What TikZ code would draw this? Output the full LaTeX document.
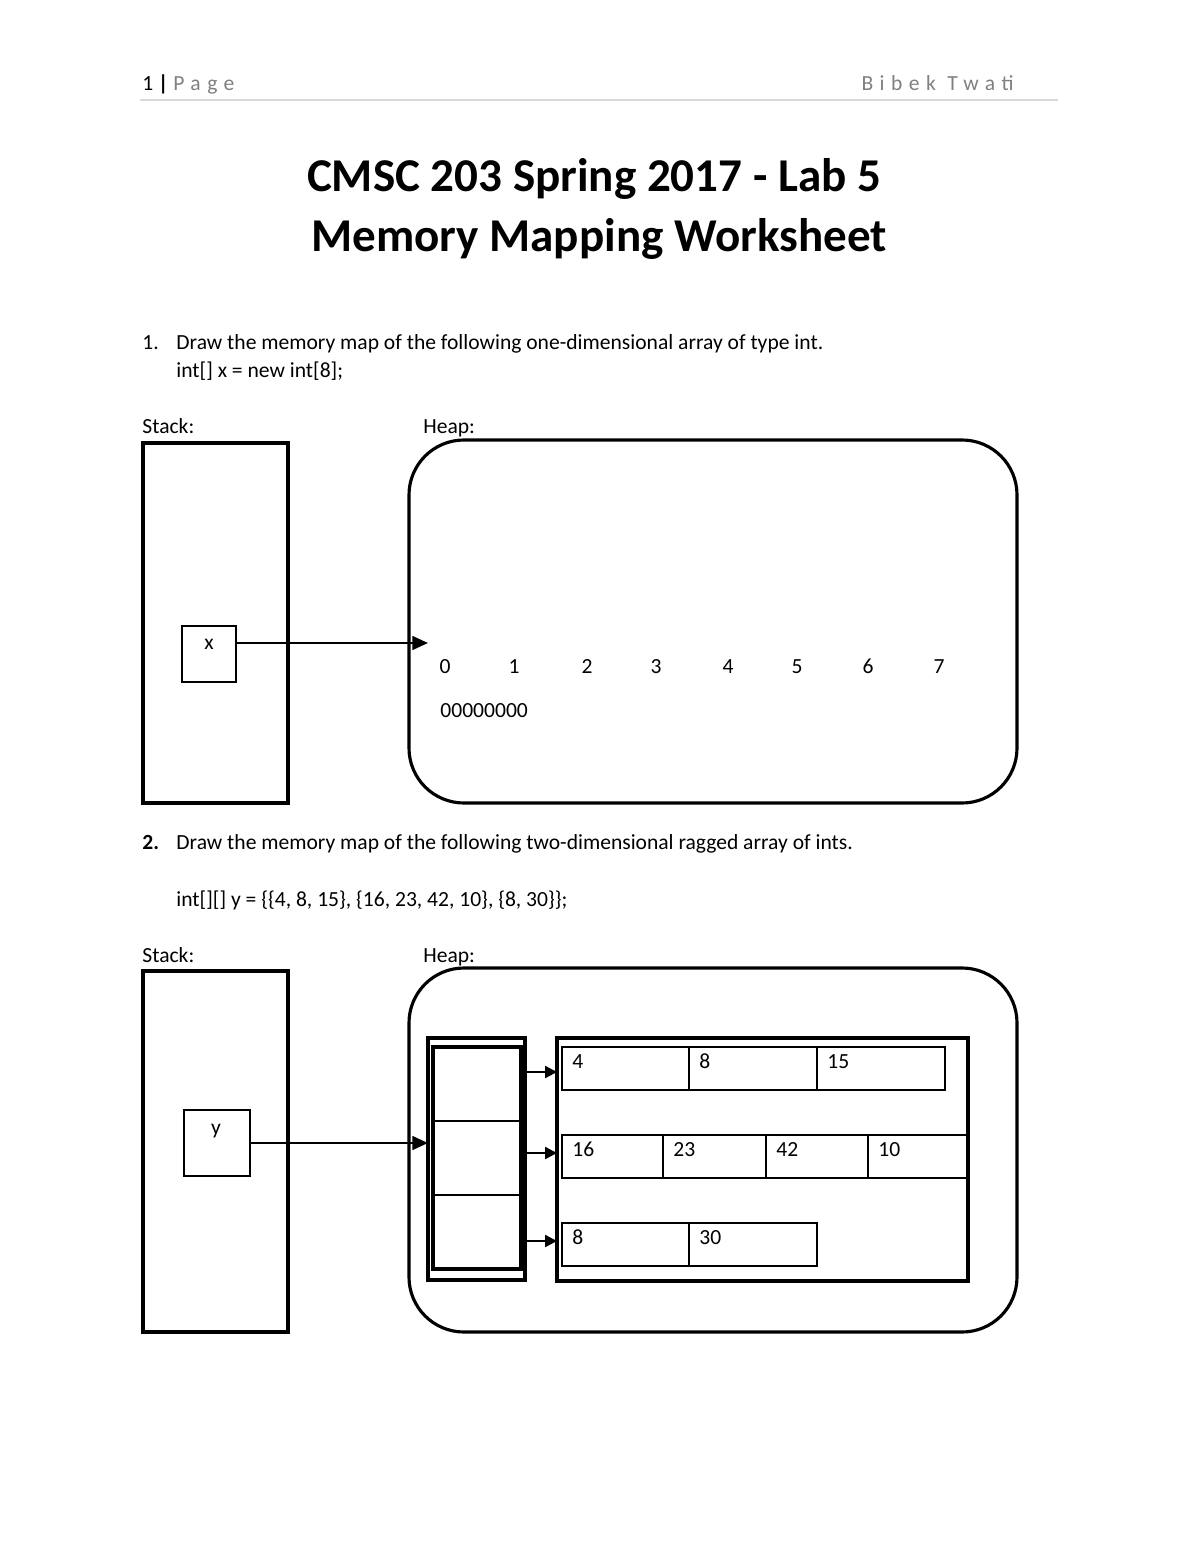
\documentclass[tikz,border=0pt]{standalone}
\usepackage{fontspec}
\setmainfont{Carlito}
\usetikzlibrary{arrows.meta}
\newdimen\pxu \pxu=0.51pt
\definecolor{hdrgray}{RGB}{128,128,128}
\definecolor{rulegray}{RGB}{217,217,217}
\begin{document}
\begin{tikzpicture}[x=0.51pt,y=-0.51pt,
  txt/.style={anchor=base west, inner sep=0pt, font=\fontsize{11}{13}\selectfont},
  ctxt/.style={anchor=base, inner sep=0pt, font=\fontsize{11}{13}\selectfont},
  titletxt/.style={anchor=base, inner sep=0pt, font=\fontsize{24}{28}\selectfont\bfseries},
  stackbox/.style={draw, line width=2pt, inner sep=0pt, outer sep=0pt},
  heapbox/.style={draw, line width=1.6pt, rounded corners=28pt, inner sep=0pt, outer sep=0pt},
  varbox/.style={draw, line width=0.9pt, inner sep=0pt, outer sep=0pt},
  arrbox/.style={draw, line width=1.6pt, inner sep=0pt, outer sep=0pt},
  refbox/.style={draw, line width=1pt, inner sep=0pt, outer sep=0pt},
  cellbox/.style={draw, line width=1.3pt, inner sep=0pt, outer sep=0pt},
  ptr/.style={-{Triangle[length=8pt,width=7pt]}, line width=1.2pt},
  sptr/.style={-{Triangle[length=6pt,width=6pt]}, line width=1.2pt},
]
\useasboundingbox (0,0) rectangle (1200,1553);

% header
\node[txt] (pgnum) at (142,91) {1 \textbf{|} \textcolor{hdrgray}{\addfontfeature{LetterSpace=30}Page}};
\node[anchor=base east, inner sep=0pt, font=\fontsize{11}{13}\selectfont, text=hdrgray] (author) at (1014,91) {\addfontfeature{LetterSpace=30}Bibek Twati};
\draw[rulegray, line width=0.6pt] (140,100) -- (1058,100);

% title
\node[titletxt] (title1) at (594,192) {CMSC 203 Spring 2017 - Lab 5};
\node[titletxt] (title2) at (599,251) {Memory Mapping Worksheet};

% question 1
\node[txt] (q1num) at (142,349) {1.};
\node[txt] (q1) at (176,349) {Draw the memory map of the following one-dimensional array of type int.};
\node[txt] (q1code) at (176,377) {int[] x = new int[8];};
\node[txt] (stack1lbl) at (142,433) {Stack:};
\node[txt] (heap1lbl) at (423,433) {Heap:};

\node[stackbox, minimum width=145\pxu, minimum height=360\pxu] (stack1) at (215.5,623) {};
\node[varbox, minimum width=54\pxu, minimum height=56\pxu] (xbox) at (209,654) {};
\node[ctxt] (xlbl) at (209,649) {x};
\node[heapbox, minimum width=608\pxu, minimum height=363\pxu] (heap1) at (713,621.5) {};
\coordinate (xstart) at (236,643);
\coordinate (xend) at (428,643);
\draw[ptr] (xstart) -- (xend);

\foreach \i/\xx in {0/445,1/514,2/587,3/656,4/728,5/797,6/868,7/939}{
  \node[ctxt] (idx\i) at (\xx,673) {\i};
}
\node[txt] (zeros) at (440,717) {00000000};

% question 2
\node[txt] (q2num) at (142,849) {\textbf{2.}};
\node[txt] (q2) at (176,849) {Draw the memory map of the following two-dimensional ragged array of ints.};
\node[txt] (q2code) at (176,906) {int[][] y = \{\{4, 8, 15\}, \{16, 23, 42, 10\}, \{8, 30\}\};};
\node[txt] (stack2lbl) at (142,962) {Stack:};
\node[txt] (heap2lbl) at (423,962) {Heap:};

\node[stackbox, minimum width=145\pxu, minimum height=361\pxu] (stack2) at (215.5,1151.5) {};
\node[varbox, minimum width=66\pxu, minimum height=66\pxu] (ybox) at (217,1143) {};
\node[ctxt] (ylbl) at (216,1134) {y};
\node[heapbox, minimum width=608\pxu, minimum height=364\pxu] (heap2) at (713,1150) {};

% outer array of references
\node[arrbox, minimum width=97\pxu, minimum height=242\pxu] (arrout) at (476.5,1159) {};
\node[refbox, minimum width=88\pxu, minimum height=74\pxu] (ref0) at (477,1084) {};
\node[refbox, minimum width=88\pxu, minimum height=74\pxu] (ref1) at (477,1158) {};
\node[refbox, minimum width=88\pxu, minimum height=74\pxu] (ref2) at (477,1232) {};
\draw[line width=1.6pt] (ref0.north west) rectangle (ref2.south east);
\draw[ptr] (ybox.east) -- (arrout.west |- ybox.east);

% big box with rows
\node[arrbox, minimum width=411\pxu, minimum height=243\pxu] (rows) at (762.5,1159.5) {};

\foreach \n/\xa/\xb/\yc/\t in {
  r0c0/562/689/1068.5/4, r0c1/689/817/1068.5/8, r0c2/817/945/1068.5/15,
  r1c0/562/663/1156.5/16, r1c1/663/766/1156.5/23, r1c2/766/868/1156.5/42, r1c3/868/967/1156.5/10,
  r2c0/562/689/1244.5/8, r2c1/689/817/1244.5/30}{
  \node[cellbox, minimum width={(\xb-\xa)*\pxu}, minimum height=43\pxu] (\n) at ({(\xa+\xb)/2},\yc) {};
  \node[txt] (\n lbl) at ({\xa+10},{\yc}) {\t};
}

\draw[sptr] (arrout.east |- 0,1072) -- (rows.west |- 0,1072);
\draw[sptr] (arrout.east |- 0,1153) -- (rows.west |- 0,1153);
\draw[sptr] (arrout.east |- 0,1241) -- (rows.west |- 0,1241);
\end{tikzpicture}
\end{document}
